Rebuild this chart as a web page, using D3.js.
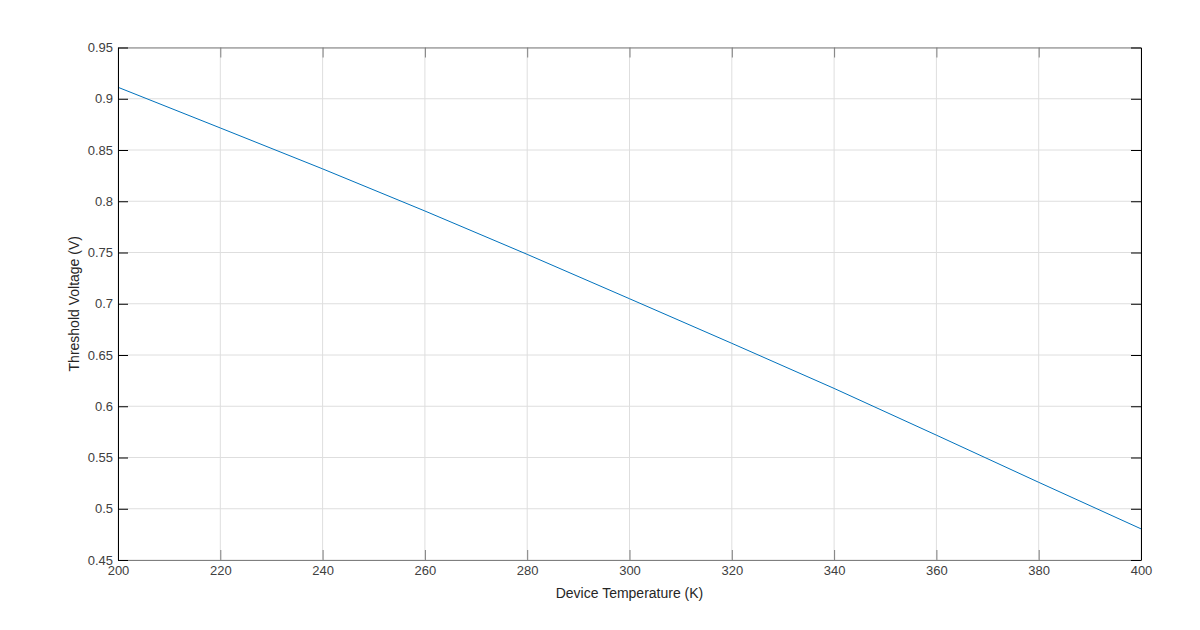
<!DOCTYPE html>
<html><head><meta charset="utf-8">
<script src="https://cdn.jsdelivr.net/npm/d3@7"></script>
<style>body{margin:0;background:#fff;} text{font-family:"Liberation Sans",Arial,sans-serif;}</style>
</head><body>
<svg id="c" width="1200" height="630"></svg>
<script>
const temperatures = [200, 220, 240, 260, 280, 300, 320, 340, 360, 380, 400];
const thresholdVoltage = [0.9112, 0.8715, 0.8316, 0.7905, 0.7482, 0.7049, 0.6614, 0.6174, 0.5718, 0.5258, 0.4804];
const xTicks = [200, 220, 240, 260, 280, 300, 320, 340, 360, 380, 400];
const yTicks = [0.45, 0.5, 0.55, 0.6, 0.65, 0.7, 0.75, 0.8, 0.85, 0.9, 0.95];
const xLabel = "Device Temperature (K)";
const yLabel = "Threshold Voltage (V)";

const svg = d3.select("#c");
const L = 118, R = 1141, T = 47.5, B = 560;
const x = d3.scaleLinear().domain([200, 400]).range([L, R]);
const y = d3.scaleLinear().domain([0.45, 0.95]).range([B, T]);

// grid
svg.append("g").selectAll("line").data(xTicks).join("line")
  .attr("x1", d => x(d)).attr("x2", d => x(d)).attr("y1", T).attr("y2", B)
  .attr("stroke", "#dedede").attr("stroke-width", 1);
svg.append("g").selectAll("line").data(yTicks).join("line")
  .attr("x1", L).attr("x2", R).attr("y1", d => y(d)).attr("y2", d => y(d))
  .attr("stroke", "#dedede").attr("stroke-width", 1);

// line
svg.append("path").datum(temperatures.map((t, i) => [t, thresholdVoltage[i]]))
  .attr("d", d3.line().x(d => x(d[0])).y(d => y(d[1])))
  .attr("fill", "none").attr("stroke", "#0072BD").attr("stroke-width", 1);

// axes
const fmt = d => String(+d.toFixed(2));
const gb = svg.append("g").attr("transform", `translate(0,${B})`)
  .call(d3.axisBottom(x).tickValues(xTicks).tickSizeInner(-10).tickSizeOuter(0).tickPadding(6).tickFormat(d3.format("d")));
const gt = svg.append("g").attr("transform", `translate(0,${T})`)
  .call(d3.axisTop(x).tickValues(xTicks).tickSizeInner(-10).tickSizeOuter(0).tickFormat(""));
const gl = svg.append("g").attr("transform", `translate(${L},0)`)
  .call(d3.axisLeft(y).tickValues(yTicks).tickSizeInner(-10).tickSizeOuter(0).tickPadding(5).tickFormat(fmt));
const gr = svg.append("g").attr("transform", `translate(${R},0)`)
  .call(d3.axisRight(y).tickValues(yTicks).tickSizeInner(-10).tickSizeOuter(0).tickFormat(""));

[gb, gt].forEach(g => {
  g.select(".domain").attr("stroke", "#7f7f7f");
  g.selectAll(".tick line").attr("stroke", "#7f7f7f");
});
[gl, gr].forEach(g => {
  g.select(".domain").attr("stroke", "#000");
  g.selectAll(".tick line").attr("stroke", "#000");
});
svg.selectAll(".tick text").attr("fill", "#404040").style("font-size", "13px")
  .style("font-family", "'Liberation Sans', Arial, sans-serif");
gb.selectAll(".tick text").attr("dy", "0.71em");

svg.append("text").attr("x", (L + R) / 2).attr("y", 598).attr("text-anchor", "middle")
  .attr("fill", "#262626").style("font-size", "14px").text(xLabel);
svg.append("text").attr("transform", `translate(79,${(T + B) / 2}) rotate(-90)`)
  .attr("text-anchor", "middle").attr("fill", "#262626").style("font-size", "14px").text(yLabel);
</script>
</body></html>
